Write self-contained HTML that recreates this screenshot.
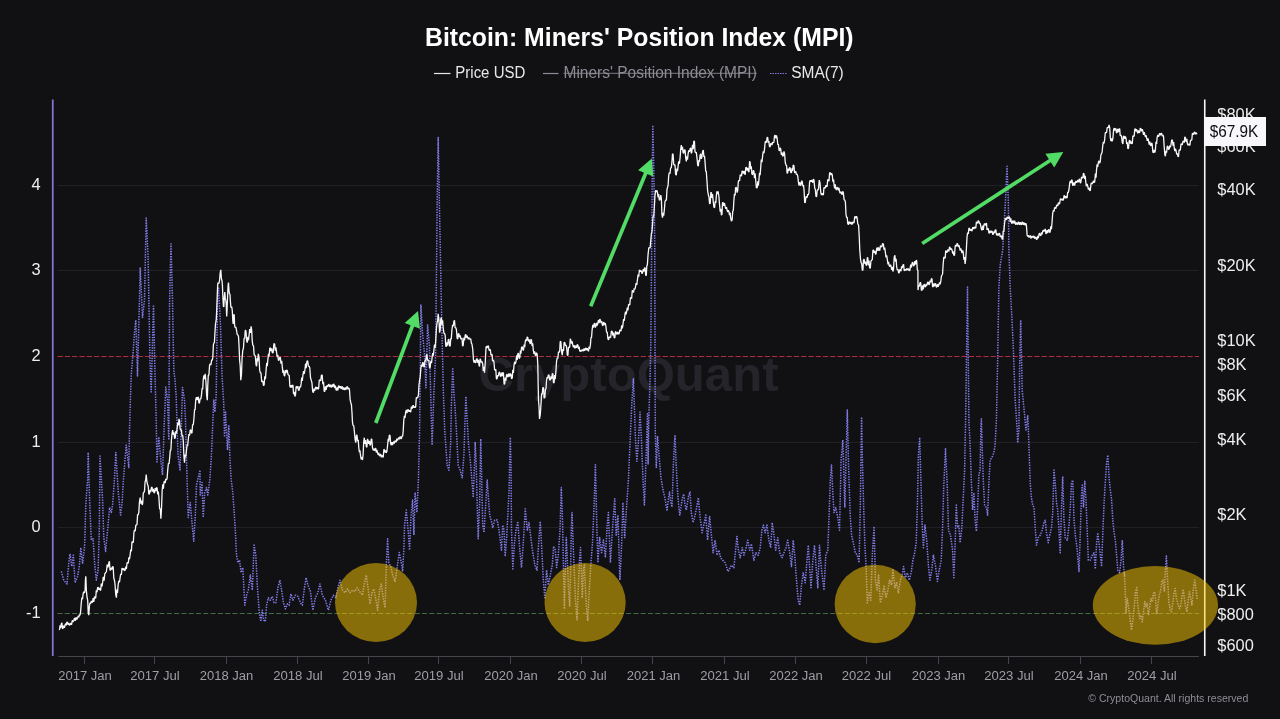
<!DOCTYPE html>
<html lang="en"><head><meta charset="utf-8"><title>Bitcoin: Miners' Position Index (MPI)</title>
<style>
html,body{margin:0;padding:0;background:#111114;}
body{width:1280px;height:719px;overflow:hidden;font-family:"Liberation Sans",sans-serif;}
svg{display:block;}
text{font-family:"Liberation Sans",sans-serif;}
</style></head><body>
<svg width="1280" height="719" viewBox="0 0 1280 719">
<rect width="1280" height="719" fill="#111114"/>
<text x="628.5" y="391.3" text-anchor="middle" font-size="48" font-weight="bold" fill="#24242a" textLength="300" lengthAdjust="spacingAndGlyphs">CryptoQuant</text>
<line x1="58" x2="1199" y1="185.5" y2="185.5" stroke="#212125" stroke-width="1"/>
<line x1="58" x2="1199" y1="270.5" y2="270.5" stroke="#212125" stroke-width="1"/>
<line x1="58" x2="1199" y1="442.5" y2="442.5" stroke="#212125" stroke-width="1"/>
<line x1="58" x2="1199" y1="527.5" y2="527.5" stroke="#212125" stroke-width="1"/>
<line x1="57.5" x2="1199" y1="356.5" y2="356.5" stroke="#ae2d3e" stroke-width="1" stroke-dasharray="5.3 1.99"/>
<line x1="57.5" x2="1199" y1="613.5" y2="613.5" stroke="#446b43" stroke-width="1" stroke-dasharray="5 2.29"/>
<line x1="58.5" x2="1199" y1="656.5" y2="656.5" stroke="#45454c" stroke-width="1"/>
<line x1="84.5" x2="84.5" y1="656.5" y2="664" stroke="#45454c" stroke-width="1"/>
<text x="85" y="680.3" text-anchor="middle" font-size="13.7" fill="#9e9ea4" textLength="53.6" lengthAdjust="spacingAndGlyphs">2017 Jan</text>
<line x1="154.5" x2="154.5" y1="656.5" y2="664" stroke="#45454c" stroke-width="1"/>
<text x="155" y="680.3" text-anchor="middle" font-size="13.7" fill="#9e9ea4" textLength="49.6" lengthAdjust="spacingAndGlyphs">2017 Jul</text>
<line x1="226.5" x2="226.5" y1="656.5" y2="664" stroke="#45454c" stroke-width="1"/>
<text x="226.5" y="680.3" text-anchor="middle" font-size="13.7" fill="#9e9ea4" textLength="53.6" lengthAdjust="spacingAndGlyphs">2018 Jan</text>
<line x1="297.5" x2="297.5" y1="656.5" y2="664" stroke="#45454c" stroke-width="1"/>
<text x="298" y="680.3" text-anchor="middle" font-size="13.7" fill="#9e9ea4" textLength="49.6" lengthAdjust="spacingAndGlyphs">2018 Jul</text>
<line x1="368.5" x2="368.5" y1="656.5" y2="664" stroke="#45454c" stroke-width="1"/>
<text x="369" y="680.3" text-anchor="middle" font-size="13.7" fill="#9e9ea4" textLength="53.6" lengthAdjust="spacingAndGlyphs">2019 Jan</text>
<line x1="438.5" x2="438.5" y1="656.5" y2="664" stroke="#45454c" stroke-width="1"/>
<text x="439" y="680.3" text-anchor="middle" font-size="13.7" fill="#9e9ea4" textLength="49.6" lengthAdjust="spacingAndGlyphs">2019 Jul</text>
<line x1="510.5" x2="510.5" y1="656.5" y2="664" stroke="#45454c" stroke-width="1"/>
<text x="511" y="680.3" text-anchor="middle" font-size="13.7" fill="#9e9ea4" textLength="53.6" lengthAdjust="spacingAndGlyphs">2020 Jan</text>
<line x1="581.5" x2="581.5" y1="656.5" y2="664" stroke="#45454c" stroke-width="1"/>
<text x="582" y="680.3" text-anchor="middle" font-size="13.7" fill="#9e9ea4" textLength="49.6" lengthAdjust="spacingAndGlyphs">2020 Jul</text>
<line x1="652.5" x2="652.5" y1="656.5" y2="664" stroke="#45454c" stroke-width="1"/>
<text x="653.5" y="680.3" text-anchor="middle" font-size="13.7" fill="#9e9ea4" textLength="53.6" lengthAdjust="spacingAndGlyphs">2021 Jan</text>
<line x1="724.5" x2="724.5" y1="656.5" y2="664" stroke="#45454c" stroke-width="1"/>
<text x="725" y="680.3" text-anchor="middle" font-size="13.7" fill="#9e9ea4" textLength="49.6" lengthAdjust="spacingAndGlyphs">2021 Jul</text>
<line x1="795.5" x2="795.5" y1="656.5" y2="664" stroke="#45454c" stroke-width="1"/>
<text x="796" y="680.3" text-anchor="middle" font-size="13.7" fill="#9e9ea4" textLength="53.6" lengthAdjust="spacingAndGlyphs">2022 Jan</text>
<line x1="866.5" x2="866.5" y1="656.5" y2="664" stroke="#45454c" stroke-width="1"/>
<text x="866.5" y="680.3" text-anchor="middle" font-size="13.7" fill="#9e9ea4" textLength="49.6" lengthAdjust="spacingAndGlyphs">2022 Jul</text>
<line x1="938.5" x2="938.5" y1="656.5" y2="664" stroke="#45454c" stroke-width="1"/>
<text x="938.5" y="680.3" text-anchor="middle" font-size="13.7" fill="#9e9ea4" textLength="53.6" lengthAdjust="spacingAndGlyphs">2023 Jan</text>
<line x1="1008.5" x2="1008.5" y1="656.5" y2="664" stroke="#45454c" stroke-width="1"/>
<text x="1009" y="680.3" text-anchor="middle" font-size="13.7" fill="#9e9ea4" textLength="49.6" lengthAdjust="spacingAndGlyphs">2023 Jul</text>
<line x1="1080.5" x2="1080.5" y1="656.5" y2="664" stroke="#45454c" stroke-width="1"/>
<text x="1081" y="680.3" text-anchor="middle" font-size="13.7" fill="#9e9ea4" textLength="53.6" lengthAdjust="spacingAndGlyphs">2024 Jan</text>
<line x1="1151.5" x2="1151.5" y1="656.5" y2="664" stroke="#45454c" stroke-width="1"/>
<text x="1152" y="680.3" text-anchor="middle" font-size="13.7" fill="#9e9ea4" textLength="49.6" lengthAdjust="spacingAndGlyphs">2024 Jul</text>
<path d="M61.3 571.4L63.8 580.2L67 583.9L68.8 562.6L70 553.9L71.8 566.4L73.3 555.1L75.1 582.7L77.6 576.4L79.3 566.4L80.8 547.6L82.6 563.9L84.6 546.3L85.8 505L87.6 480L88.2 452.5L89.6 500L91.3 540.1L93.1 538.8L94.6 562.6L96.3 580.2L98.1 570.1L99.3 530.1L100 456L102.6 500L103.8 537.6L105.6 551.4L107.6 530.1L109.6 507.5L111.4 512.5L112.6 505L114.4 480L115.8 452.5L118.1 490L119.6 505L120.6 515.1L122.1 502.5L123.4 480L126.2 445L128.8 467.5L129.5 430L131.2 375L133 354L134.5 332.5L135.8 320L137.5 376L139.4 302L140.2 268L142.5 317.5L144.5 300L146.2 218L148.1 257.5L150 362L151.2 392L153.5 305L155 375L156.2 420L157 462L158.8 437L160.8 460L162.5 475L164.2 425L165.8 387L167.5 400L168.8 440L169.6 300L171 243.8L172.5 300L173.8 370L175 380L176.2 397L178 455L180 470L182.5 387.5L184.5 400L185.5 420L186.2 450L188.2 517.6L190.2 502.5L192 522.6L193.7 541.3L195.2 517.6L196.5 485L200 470L200.2 495L202 482.5L203.2 517.6L204.7 492.5L206.5 487.5L207.8 495L209.8 480L211.2 460L213.8 400L215 412L216.2 395L217.5 300L218.6 288L220.5 325L222 375L223.8 405L224.5 437L225.5 412L227.5 450L228.8 425L230 460L231.2 480L232.8 492.5L234 510L235.3 530.1L236.5 555.1L237.8 562.6L239.5 560.1L241.1 572.6L242.8 567.6L244.8 605.2L246.6 595.2L248.3 590.2L250.3 575.1L252.3 590.2L254.1 545.1L255.8 555.1L257.3 585.2L259.1 610.2L260.8 621.5L262.3 610.2L263.6 620.2L265.3 621.5L266.6 605.2L268.3 597.7L270.3 600.2L272.3 596.4L274.1 602.7L275.9 602.7L277.9 587.7L279.9 580.2L281.6 590.2L283.4 602.7L285.4 608.9L287.4 603.9L289.1 605.2L290.9 593.9L292.9 600.2L295.4 595.2L297.9 596.4L300.4 602.7L302.4 605.2L304.1 590.2L306.1 577.6L307.9 585.2L310.4 591.4L312.9 610.2L315.4 597.7L317.9 592.7L319.9 583.9L322.4 595.2L325.4 600.2L328.4 610.2L330.9 600.2L333.4 595.2L335.9 597.7L337.9 587.7L340 580.2L342.5 590.2L345 592.7L347.5 588.9L350 592.7L352.5 590.2L355 591.4L357 587.7L359.5 591.4L362.5 595.2L364.5 582.7L366.3 575.1L368 587.7L370 603.9L372 592.7L373.8 588.9L375.6 597.7L377.6 610.2L379.6 590.2L381.3 583.9L383.1 597.7L385.1 607.7L386.3 565.1L387.6 538.8L388.8 562.6L390.8 566.4L392.6 575.1L395.1 581.4L397.1 567.6L399.3 552.6L401.3 562.6L402.6 571.4L403.8 550.1L404.6 525.1L406.3 510L408.1 530.1L409.6 550.1L410.9 517.6L412.6 500L413.9 535.1L415.1 492.5L416.9 512.5L418.4 480L419.6 430.2L420.9 305L422.6 333.8L424.6 355.1L425.9 387.7L427.6 325.1L429.4 345.1L430.6 390.2L432.1 445.2L433.9 392.7L435.6 355.1L437.2 200L438.2 137.5L439.3 200L441.4 305L442.2 342.6L443.4 392.7L444.7 430.2L447.2 465.3L448.9 470.3L450.7 442.7L451.4 405.2L452.7 367.6L453.9 392.7L455.2 410.2L456.4 430.2L458.2 465.3L460.2 470.3L462.2 477.8L463.9 455.3L464.7 430.2L465.9 396.4L467.2 420.2L468.4 442.7L470.2 460L471.9 480L473.2 497.5L474.5 465L475.2 442.4L476.2 465L477.2 505L478.2 538.8L479.7 500L480.2 470L480.7 438.7L481.5 470L482.7 525.1L484 532.6L485.7 505L487.2 480L488.2 495L489.7 515.1L491.5 521.3L492.7 527.6L494.7 520.1L497.2 520.1L499 530.1L501.5 550.1L502.7 525.1L504 530.1L505.2 556.4L506.5 540.1L509 492.5L509.8 455L510.3 437.4L511 465L511.5 530.1L512.8 568.9L514.5 542.6L516 530.1L517.8 521.3L519.8 550.1L521.5 567.6L523.3 542.6L525.3 508.8L527.3 530.1L529 522.6L530.8 537.6L532.8 552.6L534.8 565.1L537 570.1L538.5 545.1L540.3 521.3L542.1 555.1L543.3 580.2L544.8 597.7L546.6 570.1L548.3 585.2L550.3 575.1L552.3 565.1L553.6 546.3L555.3 550.1L556.6 567.6L558.3 555.1L560 530L561.3 487.5L562.5 520L563.5 570L564.4 609L565.3 570L566.3 537.5L567.3 560L568.5 590L569.7 606.5L570.6 570L571.3 530L572 512.5L573 540L574 565L575.5 600L577 619.7L578.2 590L579.5 560L580.5 547.5L581.5 575L582.3 598L583.3 570L584.3 565L585.5 590L586.8 612L587.8 621L589 595L590.8 565L592.5 542.5L594.1 505L595.4 464.7L596.6 517.6L597.9 562.6L599.6 537.6L601.6 552.6L603.4 540.1L605.4 557.6L607.2 525.1L608.4 512.5L610.4 562.6L612.4 530.1L614.7 498.8L616.2 535.1L617.9 515.1L619.9 580.2L621.7 542.6L622.9 502.5L624.7 537.6L626.7 505L628.4 480L629.5 455L630.6 430L632 400L633.4 378.8L634.5 410L635.5 440L636.9 461.3L638.5 440L640 412L641.3 436L642 455L643 480L644.4 505L645.3 480L646.3 450L647.5 413.8L648.1 464L648.8 420L650 380L650.8 345L651.3 290L651.7 240L652.2 180L652.8 125.3L653.4 150L654.1 190L654.7 240L655 340L655.3 432.5L656.3 467.5L657.5 436L659 455L661 478L663 490L665 498L667 511L668.3 500L669.5 492L670.7 502L672 507L672.6 490L673.3 467L674.5 442L675 435L676.3 467L677.6 492L678.8 507L679.8 515L681.3 505L682.6 497L683.8 494L685 505L686.3 510L687.6 502L688.8 495L690 492L691.3 512.6L693.1 522.6L695.1 515.1L697.1 505.1L698.3 497.6L700.1 517.6L702.1 532.7L704.3 522.6L705.8 515.1L707.6 540.2L709.6 516.4L711.4 535.2L713.1 552.7L715.1 540.2L717.1 555.2L718.9 550.2L720.6 557.7L722.6 560.2L725.1 562.7L728.1 571.5L731.4 565.2L733.9 567.7L735.6 550.2L736.9 536.4L738.4 550.2L740.2 557.7L742.2 547.7L743.9 555.2L745.9 548.9L747.7 540.2L749.7 550.2L751.4 543.9L753.9 560.2L755.9 552.7L758.2 555.2L760.2 547.7L761.9 530.2L763.4 525.1L765.2 532.7L766.9 525.1L768.9 540.2L770.7 547.7L772.2 522.6L774 535.2L775.7 550.2L777.7 537.7L779.7 552.7L782 557.7L784 552.7L786 547.7L787.7 540.2L789.7 552.7L791.5 566.5L793.2 540.2L794.7 555.2L796.5 580.2L798.2 600.3L799.7 605.3L801.5 585.2L803.2 572.7L805.2 582.7L807 560.2L808.3 545.2L809.8 570.2L811 587.7L812.8 560.2L814.5 545.2L816 565.2L817.8 587.7L819.5 545.2L821 565.2L822.8 580.2L824 590.2L825.8 555.2L827.8 550.2L829 517.6L830.3 480.1L831.5 465.1L832.8 492.6L834 512.6L835.8 507.6L837.8 517.6L839.5 530.2L841.1 460L842.8 440L844.1 480.1L844.8 507.6L846.1 455L847.3 410L848.6 467.6L850.3 517.6L851.6 535.2L853.3 542.7L855.3 552.7L857.3 555.2L859.1 562.7L860.3 505.1L861.6 417L862.3 455L863.6 505.1L864.8 542.7L866.1 567.7L867.3 602.8L869.1 592.7L870.8 600.3L872.3 555.2L874.1 526.4L875.4 580.2L877.1 590.2L878.6 575.2L880.4 602.8L882.4 595.2L884.1 585.2L885.9 597.8L887.9 590.2L889.6 580.2L891.6 585.2L892.9 569L894.9 587.7L896.6 582.7L898.4 592.7L900.4 580.2L902.1 575.2L903.6 566.5L905.4 577.7L907.4 572.7L909.2 580.2L911.2 572.7L912.9 560.2L914.7 552.7L916.2 542.7L917.4 505.1L918.4 455L919.7 437.5L920.9 480.1L922.2 525.1L923.4 547.7L924.9 525.1L926.7 540.2L928.4 565.2L929.9 580.2L931.7 570.2L933.4 555.2L935.4 565.2L937.4 581.5L939.2 570.2L941.2 560.2L942.5 530.2L943.7 487.6L945.5 448.8L947.2 485.1L948.5 530.2L950.5 535.2L952.6 550.2L953.8 577.7L955.1 545.2L956.3 505.1L957.6 527.7L958.8 525.2L960.1 542.7L961.8 527.7L963.3 497.6L964.6 470.1L965.6 420L967.5 287L968.9 420L970.1 445L971.4 482.6L972.6 510.1L973.9 492.6L975.1 520.2L976.4 531.4L977.6 507.6L978.9 475.1L980.1 470.1L980.9 427.5L981.4 418.7L982.1 445L983.4 482.6L984.6 505.1L986.4 507.6L987.6 515.1L988.9 482.6L990.1 460.1L991.9 457.6L993.9 452.5L995.1 445L996.4 420L997.6 362.7L998.9 287.6L1000.2 265L1002.7 250L1005.5 200L1007 166.3L1008.3 200L1008.9 250L1010.2 287.6L1011.9 317.6L1013.4 350.2L1015.2 400.2L1017.2 430L1017.7 442.8L1018.9 430L1019.7 362.7L1020.7 320.1L1021.4 350.2L1022.2 390.2L1024.4 412.7L1025.9 430L1026.7 425.3L1027.7 415.2L1028.2 425.3L1028.9 445L1030.2 482.6L1031.4 497.6L1032.7 505.1L1034 507.6L1035.2 527.7L1036.5 545.2L1038.2 537.7L1040.2 535.2L1042.2 530.2L1044 522.7L1045.2 520.2L1046.5 532.7L1048.2 542.7L1049.7 535.2L1051.5 527.7L1052.7 512.6L1054 470.1L1055.2 482.6L1056.5 502.6L1057.7 510.1L1059 530.2L1060.2 552.7L1061.5 507.6L1062.7 476.3L1064 520.2L1065.2 537.7L1067.3 540.2L1069 525.2L1070.3 507.6L1071.5 482.6L1072.8 480.1L1074 520.2L1075.3 535.2L1077 547.7L1079 571.5L1080.3 532.7L1081.5 495.1L1082.3 485.1L1083.5 507.6L1084.8 481.3L1086 500.1L1087.3 532.7L1088.3 560.2L1090.3 560.2L1092.3 555.2L1094 552.7L1095.3 569L1096.5 545.2L1097.8 532.7L1099.5 547.7L1101.6 566.5L1102.8 532.7L1104.1 502.6L1105.3 482.6L1106.6 462.6L1107.8 455.1L1109.1 477.6L1110.3 490.1L1111.6 500.1L1112.8 520.2L1114.1 532.7L1115.3 540.2L1116.6 555.2L1117.8 570.2L1119.6 572.7L1121.1 560.2L1122.3 540.2L1123.6 567.7L1124.6 575.2L1124.3 573.4L1125.1 586.8L1126 613.5L1127.1 598.4L1128.5 606.8L1129.8 616.8L1131.5 630.2L1133 618.5L1134.3 606.8L1135.5 591.8L1136.8 587.6L1137.6 603.4L1138.5 610.1L1139.8 618.5L1141.5 615.1L1142.2 621.8L1143.5 611.8L1144.8 601.8L1146 606.8L1147.2 603.4L1148.5 615.1L1149.7 606.8L1151 598.4L1152.2 601.8L1153.5 593.4L1154.7 591.8L1156 605.1L1156.8 614.3L1158 603.4L1159.3 595.1L1160.7 590.1L1161.9 581.7L1163 580.1L1164.4 591.8L1165.2 573.4L1166.4 555.9L1167.7 581.7L1168.9 601.8L1170.2 610.1L1171.5 611.8L1172.7 603.4L1174 593.4L1175.2 588.4L1176.4 598.4L1177.7 603.4L1179.4 608.5L1180.6 606.8L1181.9 596.8L1183.2 589.3L1184.4 598.4L1185.6 606.8L1186.9 611.8L1188.2 600.1L1189.4 591.8L1190.7 598.4L1191.9 605.1L1193.2 590.1L1194.7 580.1L1196.1 590.1L1197.3 600.1" fill="none" stroke="#837dea" stroke-width="1.5" stroke-dasharray="1.4 1.2" stroke-linejoin="round"/>
<path d="M59.5 629.5L60.1 625.4L60.7 628.2L61.3 624L61.9 622.7L62.5 628.7L63 628.2L63.7 625.6L64.4 627.9L65 625.2L65.7 623.6L66.3 625.4L66.9 621.8L67.5 622.7L68.2 624.8L68.8 622.9L69.4 625.3L70 624.7L70.8 622.9L71.5 624.8L72.3 620.3L73 622L73.8 620.2L74.6 618L75.3 620.9L76.1 617.3L76.8 619.6L77.6 617.7L78.2 616.1L78.8 617.3L79.4 614.4L80.1 615.2L80.7 610.8L81.3 602.7L81.9 597.5L82.5 599.2L83.1 593.9L83.7 591.6L84.4 593.1L85.1 590.2L85.4 580.4L85.8 576.4L86.4 590.9L87.1 597.7L87.7 600.4L88.2 612.7L88.8 615.2L89.4 605.9L90.1 602.7L90.7 603.7L91.3 600.9L92 602.7L92.6 601.4L93.2 598.2L93.8 601.8L94.5 596.6L95.1 597.7L95.7 598.3L96.3 590.4L97 592.2L97.6 587.7L98.2 587.2L98.8 589.8L99.5 587.9L100.1 590.2L100.7 590.3L101.3 583.5L102 586.5L102.6 582.7L103.3 576.9L104.1 580.7L104.8 573.8L105.6 572.6L106.4 571.8L107.2 564.6L108 567.3L108.9 562.6L109.4 561.2L110 570.2L110.6 570.1L111.3 567.8L111.9 569.6L112.6 566.4L113.2 567.2L113.8 578L114.4 580.2L115 584L115.7 594.4L116.4 597.7L116.9 589.3L117.5 593L118.1 585.2L118.8 580.9L119.5 582.1L120.1 577.6L120.7 573.9L121.4 574.8L122 568L122.6 568.9L123.2 570L123.9 568.3L124.5 570.9L125.1 570.1L125.8 566.6L126.4 569L127 563L127.6 562.6L128.3 563.2L128.9 557.4L129.5 559.1L130.1 555.1L130.8 549.7L131.4 551.3L132 541.5L132.6 542.6L133.3 542.2L134 531.7L134.6 530.1L135.2 531.3L135.8 525.1L136.4 525.1L137 524.5L137.6 514.4L138.1 515.1L138.8 512.6L139.5 501.4L140.2 497.5L140.8 503.6L141.5 500.6L142.2 505L142.7 503.3L143.3 493L143.9 492.5L144.5 490.9L145.1 481.7L145.7 480L146.2 474.5L146.9 481.7L147.7 485L148.2 486L148.8 494.1L149.4 493.8L150.1 489.9L150.7 492.1L151.4 487.5L152 487.2L152.7 491.7L153.3 488.8L153.9 492.5L154.5 493L155.2 488.1L155.8 491.1L156.4 487.5L157.1 488.1L157.7 494.4L158.3 491.5L158.9 497.5L159.6 508.5L160.3 509.3L160.9 518.8L161.6 506.6L162.2 490L162.8 484.2L163.4 488.8L163.9 482.5L164.6 480.9L165.2 483.2L165.8 478.8L166.4 480L167.1 478.4L167.7 470.3L168.4 463.3L169 463.9L169.7 457.7L170.3 450.1L170.9 450.3L171.4 440.2L172.1 432.9L172.7 430.2L173.3 434.7L174 432.2L174.6 438.7L175.2 437.7L175.9 431.1L176.5 433.5L177.2 427.7L177.8 422.6L178.4 425.4L179 418.9L179.5 420.8L180.1 428.8L180.7 430.2L181.4 429.8L182 436.1L182.7 435.2L183.3 441.1L183.9 456L184.5 462.7L185.1 454.5L185.8 456.7L186.5 450.2L187.1 445.1L187.6 446L188.2 440.2L188.9 434L189.6 435.4L190.2 430.2L190.8 429.9L191.4 433.2L192 432.7L192.6 424.5L193.3 424.8L194 417.7L194.6 409.2L195.1 410L195.7 400.2L196.4 397.2L197.1 400.2L197.7 397.6L198.3 396.8L198.9 403.3L199.5 402.7L200.2 398.4L200.8 399.2L201.5 395.1L202.1 388.4L202.7 389.2L203.2 380.1L203.9 375.4L204.6 379.1L205.2 373.9L205.9 380.8L206.6 394.8L207.3 400.2L207.8 384.7L208.3 375.1L208.9 375L209.6 365L210.3 363.8L210.9 365.1L211.6 360.2L212.3 360.1L212.8 357.4L213.4 344.8L214 342.6L214.4 342.9L214.8 335L215.5 324L216.2 320.2L216.7 310.6L217.3 293.9L217.7 284.5L218 282.6L218.8 283.7L219.5 280.8L220.2 272.7L220.8 269.9L221.4 278.8L222 280.8L222.4 285.1L222.9 297.7L223.4 306.3L223.8 307L224.3 296.7L224.8 292L225.3 299.6L225.7 299.5L226.2 304L226.7 316.4L227.1 309.3L227.6 295.8L228.1 285.9L228.5 282.6L229 291L229.5 293.9L230 294.4L230.4 301.4L230.9 307.5L231.4 307L231.8 307.2L232.3 310.8L232.8 320.8L233.2 323.9L233.7 314.9L234.2 314.6L234.6 325.1L235.1 327.7L235.8 326.8L236.4 329.6L237.2 334.5L237.9 335L238.5 336.4L239 345.1L239.6 360L240.2 365.6L240.8 380.1L241.5 374L242.1 358.1L242.8 350.1L243.4 348.7L244.1 338.3L244.7 338.3L245.3 330L246 331.2L246.6 340.7L247.3 342.6L247.9 336.8L248.5 340.3L249.1 335.1L249.7 329.1L250.4 333L251.1 326.3L251.7 330.2L252.2 340.6L252.8 345.1L253.5 345.9L254.2 355.2L254.8 355.1L255.4 356.6L256 364.8L256.6 366.3L257.2 358.1L257.7 361.4L258.3 353.8L259 357.2L259.7 370.4L260.3 372.6L261 373.1L261.7 381.7L262.3 381.4L262.9 381.2L263.5 385.6L264.1 385.1L264.8 376.3L265.4 379.2L266.1 370.1L266.7 362.8L267.3 366.2L267.8 360.1L268.5 353.7L269.1 356.4L269.7 348.6L270.3 347.6L271 351.2L271.7 348.3L272.3 352.6L273.1 353L273.9 343.7L274.6 343.8L275.3 350.6L275.9 347.4L276.6 352.6L277.2 357.1L277.8 354.9L278.4 360.1L279 360.4L279.7 357.3L280.4 357.6L281 363.7L281.7 360.9L282.4 367.6L282.9 372.9L283.5 370.3L284.1 375.1L284.7 376.2L285.4 370.1L286 373.1L286.6 370.1L287.3 370.5L288 374.6L288.6 375.1L289.2 375.3L289.8 385.3L290.4 387.6L291 385.1L291.7 387.5L292.4 385.1L293 385.6L293.6 394.3L294.3 391.9L294.9 396.4L295.5 395.1L296.1 386.8L296.6 386.4L297.3 388.3L297.9 386.2L298.5 390.4L299.1 390.1L299.8 386.5L300.5 387.4L301.1 383.9L301.7 377.6L302.3 380.9L302.9 375.1L303.6 371.2L304.2 374L304.9 370.1L305.6 363.6L306.2 368.2L306.9 361.3L307.7 360.8L308.4 366.1L309.2 366.3L309.8 368L310.5 377.7L311.2 380.1L311.9 382.5L312.7 391.4L313.4 392.6L314.1 388.6L314.7 390.8L315.4 387.6L316 387L316.7 389.3L317.3 387.2L317.9 388.9L318.6 388.8L319.3 380L319.9 380.1L320.7 380.8L321.4 375.1L322.2 375.1L322.8 384.3L323.5 381.9L324.2 391.4L324.8 391.3L325.4 386.4L326.1 389.8L326.7 386.4L327.3 385.3L327.9 386.9L328.6 384.2L329.2 385.1L329.8 387L330.4 384.7L331.1 387.3L331.7 386.4L332.3 384.5L332.9 387.2L333.6 383.8L334.2 385.1L334.8 388.1L335.4 385.6L336.1 390.2L336.7 390.1L337.3 387.3L337.9 390.3L338.6 385.5L339.2 386.4L339.8 388.1L340.5 386.1L341.1 388.9L341.7 387.6L342.3 386.3L343 389.9L343.6 387.4L344.2 388.9L344.8 390L345.5 387.3L346.1 389.5L346.7 387.6L347.3 386.4L348 389.3L348.6 387.8L349.2 388.9L349.5 390.2L350.1 399.3L350.8 402.7L351.4 404.5L352 412.7L352.5 422.7L353 425.2L353.8 426L354.5 432.7L355.1 439.5L355.8 442.7L356.4 435.2L357 435.2L357.6 441.3L358.2 439.8L358.8 447.8L359.4 452.2L359.9 450.4L360.5 455.3L361.2 459.3L361.9 457.1L362.5 460L363.1 454.7L363.7 442.1L364.3 437.7L365 444L365.6 440L366.3 446.5L366.9 447.3L367.5 438.9L368 440.2L368.7 443.9L369.4 440.8L370 445.2L370.6 444.8L371.2 439.2L371.8 439L372.5 447.7L373.3 450.3L373.9 448.8L374.5 450.9L375.1 449L375.7 448.2L376.3 452.5L376.9 449.8L377.6 452.8L378.2 454.8L378.8 452.9L379.4 455.9L380.1 455.3L380.7 454.1L381.3 457.4L381.9 455.3L382.6 456.5L383.2 457.4L383.9 449.2L384.6 450.3L385.2 452.7L385.7 450.3L386.3 452.8L386.9 451.3L387.6 445.2L388.2 438.8L388.7 441.6L389.3 435.2L390 435.3L390.7 443.7L391.3 445.2L391.9 442.2L392.5 445.2L393.1 442.7L393.7 441.4L394.3 443.6L395 440.6L395.6 441.5L396.2 442.2L396.8 438.6L397.5 440.5L398.1 439L398.8 437.5L399.5 439.4L400.2 436.5L400.8 437.7L401.4 439L402 435.9L402.6 436.5L403.2 431.3L403.8 420.2L404.4 415.8L405 417.8L405.6 412.7L406.3 410L406.9 413L407.6 410.2L408.2 409.4L408.9 411.8L409.5 410.3L410.1 411.4L410.7 412.2L411.4 406.5L412 408.9L412.6 406.4L413.2 405.3L413.9 407.7L414.5 406.5L415.1 407.7L415.7 406.7L416.3 397.5L416.9 397.7L417.6 397.8L418.4 395.2L419 385L419.6 380.2L420.2 377.2L420.9 367.6L421.5 364.5L422 366.9L422.6 362.6L423.2 362.6L423.8 367L424.4 366.4L425 360.2L425.7 361.1L426.4 355.1L427 354.6L427.5 360.5L428.1 360.1L428.8 360.4L429.5 367.5L430.1 367.6L430.8 361.2L431.5 363.1L432.1 357.6L432.7 353L433.3 355.7L433.9 350.1L434.5 344.5L435.1 347.9L435.6 342.6L436.4 328.6L437.1 322.6L437.6 321.5L438.1 313.8L438.9 319.2L439.6 332.6L440.2 329.9L440.8 318.9L441.4 317.6L442 324.7L442.6 320.2L443.2 327.6L443.9 333L444.7 333.8L445.2 335.5L445.8 346.3L446.4 346.3L447 342.4L447.6 345.7L448.2 340.1L448.8 339.1L449.5 345.8L450.2 346.3L450.7 338.6L451.3 339.1L451.9 330.1L452.6 324.9L453.3 326.1L453.9 321.3L454.5 320.2L455.1 327.8L455.7 327.6L456.4 329.4L457.2 338.8L457.8 338.6L458.3 333.5L458.9 333.8L459.6 337.2L460.2 335.3L460.8 338.9L461.4 338.8L462 338.1L462.6 346.3L463.2 345.1L463.9 337.5L464.5 340.4L465.2 335.1L465.8 334.3L466.4 338L467.1 335.6L467.7 337.6L468.3 339.2L468.9 337.4L469.6 339.3L470.2 338.8L470.8 339.1L471.4 343.5L471.9 343.8L472.7 348.8L473.5 360.1L474 362.5L474.6 360.1L475.2 362.6L475.9 362.6L476.5 358.8L477.2 358.9L477.8 362.8L478.4 359.9L479 365.1L479.5 366.5L480.1 358.8L480.7 360.1L481.4 362.5L482 361.5L482.7 363.9L483.3 371L483.9 366.8L484.5 372.6L485.2 363.8L486 347.6L486.6 346.1L487.1 348L487.7 346.3L488.4 345.8L489.1 350.5L489.7 350.1L490.3 349.4L490.9 354.7L491.5 355.1L492.1 354.2L492.6 361.2L493.2 360.1L493.9 361.3L494.6 369.7L495.2 370.1L495.8 369.4L496.4 378.8L497 378.9L497.7 375.1L498.3 376.3L499 372.6L499.7 372.1L500.3 376.2L501 376.4L501.6 372.7L502.2 376.2L502.7 372.6L503.4 372.8L504.1 384.1L504.7 383.9L505.3 377.6L505.9 380.8L506.5 375.1L507.1 374.2L507.7 377.2L508.3 376.4L508.9 373.5L509.6 376.6L510.3 373.9L510.9 373.8L511.6 378.8L512.3 377.6L512.8 369.8L513.4 373L514 365.1L514.7 361.7L515.3 364.2L516 361.4L516.6 355.2L517.2 360L517.8 353.9L518.4 353.1L519.1 358.5L519.8 357.6L520.4 350.6L520.9 353.7L521.5 347.6L522.2 346.7L522.9 350.2L523.5 350.1L524.1 344.6L524.7 347.2L525.3 341.3L525.9 339.5L526.5 340.9L527.2 336.8L527.8 337.6L528.4 341.5L529.1 339.4L529.8 342.6L530.4 343.9L531 339.2L531.5 340.1L532.1 346L532.7 343.3L533.3 350.1L534 353.9L534.6 351.4L535.3 355.1L535.9 355.5L536.5 352.6L537.2 354.5L537.8 365.1L538.2 386L538.5 400.2L539 406L539.5 419L540.3 414.5L541.1 402.7L541.6 393.4L542.2 394.5L542.8 387.7L543.5 387.7L544.1 398L544.8 397.7L545.4 389.4L546 388.8L546.6 380.2L547.1 377.2L547.7 378.4L548.3 375.1L549 375L549.6 379.8L550.3 380.2L551 376.3L551.7 379L552.3 373.9L552.9 373.7L553.5 382.8L554.1 382.7L554.7 375.1L555.2 379.2L555.8 372.6L556.6 360.8L557.3 357.6L557.9 358.4L558.5 351.5L559.1 352.6L559.7 350.8L560.2 341.8L560.8 341.3L561.6 351.9L562.3 355.1L562.9 349.1L563.5 350.9L564.1 342.6L564.8 342.4L565.4 345.7L566.1 345.1L566.7 347.9L567.3 355.1L567.9 355.4L568.5 347.1L569.1 347.6L569.7 346.8L570.3 338.8L570.8 340.1L571.5 343.6L572.2 341.4L572.8 345.1L573.5 347.2L574.1 345.1L574.7 348.1L575.4 347.6L576 345.4L576.6 347.8L577.2 344.6L577.9 345.1L578.5 349L579.1 346.6L579.7 351L580.4 351.4L581 350.1L581.6 351.4L582.2 349.6L582.9 350.1L583.5 351.2L584.1 348.4L584.7 350.7L585.4 348.9L586 347.8L586.6 350.2L587.2 348.1L587.9 350.1L588.5 351.3L589.1 346.5L589.7 348.8L590.4 345.1L591 337.2L591.5 338L592.1 330.1L592.8 324.8L593.5 327.7L594.1 323.8L594.7 323.1L595.3 327.6L595.9 326.3L596.6 323L597.2 325.5L597.9 322.6L598.5 320L599.1 323.1L599.8 319.2L600.4 320.1L601.1 323.1L601.7 321.2L602.4 325.1L603 325.7L603.6 322.2L604.1 322.6L604.7 325L605.3 323.2L605.9 326.3L606.6 332.5L607.2 331.8L607.9 338.8L608.6 339.8L609.2 336.8L609.9 337.6L610.7 337.2L611.4 331.1L612.2 331.3L612.8 335.5L613.5 332.7L614.2 337.6L614.8 338L615.5 331.4L616.2 332.6L616.9 334.6L617.7 332L618.4 333.8L619.1 333.9L619.8 330.2L620.4 330.1L621 331.2L621.7 325.3L622.3 328.3L622.9 325.1L623.6 319.1L624.3 320.8L624.9 315.1L625.5 311.7L626.1 314.5L626.7 311.3L627.3 307.6L627.9 310.4L628.6 304.2L629.2 305L629.8 304.6L630.4 297.9L630.9 297.5L631.6 298.6L632.3 290.3L632.9 291.3L633.6 292.4L634.2 288.4L634.8 289.4L635.4 287.5L636.1 283L636.8 284.9L637.4 280L638.1 274.7L638.7 276.8L639.4 270L640 270.3L640.6 271.7L641.3 270.6L641.9 273.7L642.5 272.8L643.2 269L643.8 271.7L644.5 267.8L645.1 267.8L645.7 275.5L646.3 275.3L646.8 266.3L647.4 264.5L648 255.2L648.8 247.8L649.5 247.7L650.1 247.9L650.8 240.2L651.4 233.3L651.9 232.2L652.5 225.2L653.1 215.5L653.7 216.8L654.3 207.7L655 195.2L655.8 190.1L656.4 192.1L656.9 190.4L657.5 192.6L658.1 197.3L658.7 194.1L659.3 200.2L660 199.7L660.8 195.1L661.4 199.2L661.9 214.5L662.5 217.7L663.1 212.8L663.7 215.6L664.3 210.2L665 201.5L665.8 200.2L666.4 200.1L667 189L667.5 187.6L668.1 185.3L668.7 175.6L669.3 172.6L670 173.6L670.6 168L671.3 167.6L671.9 162.7L672.5 153.8L673.1 154.4L673.7 164.3L674.3 165.1L675 164.9L675.6 174.3L676.3 175.1L676.9 168.5L677.5 171.2L678.1 166.3L678.7 161.3L679.4 163.7L680.1 157.6L680.7 149.4L681.3 145.1L681.9 149.9L682.5 146.8L683.1 152.6L683.7 153.5L684.4 149.7L685.1 150.1L685.7 157.8L686.3 161.3L686.9 156.4L687.5 159.6L688.1 153.8L688.7 150.4L689.4 151.8L690.1 148.8L690.7 147.9L691.2 153.3L691.8 152.6L692.5 144.7L693.2 149.2L693.8 141.3L694.4 141L695 151.7L695.6 152.6L696.3 152.3L697.1 158.8L697.7 165.1L698.3 166.3L698.9 160L699.5 161.6L700.1 155.1L700.7 153.8L701.3 158.8L701.8 157.6L702.6 151.5L703.3 150.1L703.9 156.9L704.5 155.7L705.1 162.6L705.7 171.1L706.3 171.5L706.9 180.1L707.6 190.4L708.4 195.1L709 197.3L709.6 203.9L710.2 203.3L710.8 192.6L711.4 192.6L711.9 198L712.5 194.1L713.1 200.2L713.9 207.1L714.6 207.7L715.2 201.3L715.8 203L716.4 195.1L716.9 191.4L717.5 194.1L718.1 191.4L718.9 196.5L719.6 205.2L720.2 211.6L720.8 208.7L721.4 215.2L722 214.2L722.5 202.6L723.1 202.7L723.8 205.9L724.5 203L725.1 206.4L725.8 208.8L726.5 207.1L727.1 210.2L727.7 212.1L728.3 210.2L728.9 211.4L729.5 215.1L730.1 212.6L730.6 217.7L731.4 221.1L732.1 220.2L732.7 211.6L733.3 210.2L733.9 200.2L734.5 193.9L735.1 195.5L735.6 187.6L736.4 187.5L737.1 192.6L737.7 190.8L738.3 182L738.9 180.1L739.6 180.9L740.2 174.7L740.9 175.1L741.5 176.1L742.1 170.9L742.7 171.4L743.3 173.5L744 171L744.7 173.9L745.2 174.6L745.8 167.2L746.4 167.6L747.1 170.7L747.7 168L748.4 171.4L749 172L749.6 161.4L750.2 162.6L750.7 169.1L751.3 166.2L751.9 173.9L752.6 174.7L753.3 170.3L753.9 171.4L754.5 178.1L755.1 173.3L755.7 180.1L756.4 187.9L757.2 187.6L757.8 181.3L758.3 185.7L758.9 180.1L759.5 172.9L760.1 175.3L760.7 167.6L761.3 159.6L762 162.1L762.7 155.1L763.3 151.4L763.9 153.2L764.4 150.1L765.2 142L765.9 141.3L766.5 142.7L767.1 137.2L767.7 137.6L768.3 142.6L768.9 141.1L769.4 146.3L770.1 146.9L770.8 143.4L771.4 143.8L772 145.1L772.6 142.2L773.2 142.6L773.9 142.2L774.5 135.9L775.2 135.1L775.9 138.3L776.5 135.4L777.2 138.8L777.8 144.8L778.4 144.4L779 150.1L779.5 150.9L780.1 147.9L780.7 148.8L781.4 154.8L782 152.3L782.7 156.3L783.3 155.6L784 151.3L784.6 153.7L785.3 162.8L786 165.1L786.6 165.5L787.1 173.4L787.7 172.6L788.3 168.6L788.9 170.9L789.5 167.6L790.1 167.8L790.8 172.6L791.5 172.6L792.1 168.1L792.6 171L793.2 165.1L793.9 165.5L794.6 172.7L795.2 172.6L795.8 171.4L796.4 174.7L797 173.9L797.7 175.8L798.5 182.6L799.1 185.5L799.7 182.2L800.2 185.1L800.9 185.4L801.6 180.8L802.2 181.4L802.9 186.3L803.5 185.1L804.1 190.9L804.7 202.7L805.3 202.4L805.9 197L806.5 196.4L807.1 197.7L807.7 194L808.3 195.1L808.9 192.9L809.6 182L810.3 180.1L810.9 181.8L811.6 180L812.3 181.4L812.8 182.7L813.4 179.1L814 180.1L814.7 187.9L815.3 189.2L816 196.4L816.6 196.7L817.2 190L817.8 190.1L818.5 188.9L819.3 180.1L820 182.8L820.8 192.6L821.4 195.1L822.1 193.3L822.8 195.1L823.4 194.6L823.9 187.8L824.5 187.6L825.2 188.2L825.9 185.2L826.5 186.4L827.1 186.8L827.7 179.5L828.3 180.1L829 181.2L829.6 173.1L830.3 172.6L831 175L831.6 173.2L832.3 175.1L832.9 181.8L833.5 179.2L834 183.9L834.6 188.3L835.2 184.4L835.8 188.9L836.5 190L837.1 187.3L837.8 187.6L838.4 190.4L839 187.9L839.5 191.4L840.2 193.2L840.9 191.6L841.6 193.9L842.1 194.7L842.7 191.3L843.3 192.6L844.1 199.6L844.8 200.2L845.4 202L846 214.3L846.6 217.7L847.2 217L847.8 223.9L848.5 224.6L849.1 221.5L849.8 222.7L850.4 223.9L851 221.9L851.6 223.9L852.2 224.5L852.7 221.8L853.3 222.7L854 222.9L854.7 216.9L855.3 216.4L855.9 218.4L856.5 216.2L857.1 217.7L857.8 224L858.6 225.2L859.2 235.8L859.8 250.2L860.5 259L861.1 262.7L861.7 263.6L862.3 270.3L862.9 270.1L863.5 260.1L864.1 259L864.8 263.7L865.4 261.7L866.1 265.2L866.7 265.3L867.3 257.6L867.8 257.7L868.4 265.3L869 260.5L869.6 267.8L870.3 268.1L870.9 261.3L871.6 260.2L872.3 259.6L872.9 250L873.6 250.2L874.2 252.9L874.8 250.8L875.4 254L876 254.1L876.7 248.5L877.4 247.7L877.9 250.8L878.5 247.4L879.1 250.2L879.8 250.3L880.4 245.8L881.1 246.5L881.9 246.8L882.6 243.5L883.4 244L884 249.8L884.7 247.5L885.4 252.7L886 257.4L886.7 255.4L887.4 260.2L888 264.4L888.5 261.9L889.1 265.2L889.8 266.6L890.5 264.6L891.1 266.5L891.7 270L892.3 266.9L892.9 271.5L893.5 269.3L894.2 257.1L894.9 255.2L895.5 261.6L896.1 258.9L896.6 266.5L897.3 270.1L898 269.1L898.6 272.8L899.2 272.9L899.8 269.3L900.4 270.3L901 271.1L901.6 266.4L902.3 268.1L902.9 265.2L903.6 264.3L904.2 270.8L904.9 270.3L905.5 269.2L906.1 270.5L906.8 268.5L907.4 269L908 270.1L908.7 268.6L909.3 270.7L909.9 270.3L910.7 264.5L911.4 267.5L912.2 262.7L912.8 262.1L913.5 266.1L914.2 265.2L914.8 261.1L915.5 264.5L916.2 260.2L916.7 260.9L917.3 269.5L917.9 270.3L918 290.1L918.7 285.2L919.4 286.5L920 282.5L920.7 282.7L921.4 290.5L922 290.1L922.6 285.3L923.2 289.4L923.8 285.1L924.5 284.1L925.1 287.2L925.8 286.3L926.4 284L927 285.4L927.5 282.5L928.2 281.9L928.9 284.8L929.5 283.8L930.1 280.7L930.7 282.4L931.3 278.8L932 278.7L932.6 287L933.3 286.3L933.9 283.5L934.5 286.3L935.1 283.8L935.7 283.6L936.4 287.3L937.1 286.3L937.6 284.2L938.2 286.8L938.8 285.1L939.5 282.3L940.1 284.3L940.8 281.3L941.4 276.1L942.1 275L942.6 273.6L943.1 265L943.8 257.1L944.6 257.7L945.2 258.1L945.7 250.6L946.3 251.5L947 252.6L947.7 249.7L948.3 250.2L948.9 251.5L949.5 246.8L950.1 247.7L950.7 249.7L951.4 248.4L952.1 250.2L952.7 253.6L953.2 251.3L953.8 255.2L954.5 255.4L955.2 246L955.8 245.2L956.4 246.5L957 243.3L957.6 244L958.3 246.9L958.9 245.3L959.6 247.7L960.2 250.7L960.8 248.3L961.3 250.2L962 253L962.7 250.4L963.3 252.7L963.9 259.7L964.5 257.1L965.1 264L965.7 259.5L966.3 250.2L967 237.4L967.6 232.7L968.3 233.9L968.9 228L969.6 228.9L970.2 230.7L970.8 228.9L971.4 230.2L972 231.2L972.7 227.3L973.4 227.7L973.9 229L974.5 227L975.1 227.7L975.8 228.2L976.4 221.8L977.1 222.7L977.7 223.2L978.3 220.5L978.9 221.4L979.5 223.9L980 222.8L980.6 225.2L981.4 229.4L982.1 230.2L982.7 225.5L983.3 229.8L983.9 225.2L984.5 223.4L985.2 225.4L985.9 223.9L986.5 223.1L987 229.9L987.6 228.9L988.3 228.6L989 233.3L989.6 232.7L990.2 230.7L990.8 232.6L991.4 231.4L992.1 231.2L992.7 234.6L993.4 234L994 231.4L994.6 233.1L995.1 230.2L995.8 229.7L996.5 235L997.1 235.2L997.7 233.5L998.3 235.4L998.9 234L999.6 233.2L1000.2 236.9L1000.9 236.5L1001.5 235.5L1002.1 239.1L1002.7 239L1003.2 230.9L1003.8 231.9L1004.4 225.2L1005.2 218.3L1005.9 218.9L1006.5 219.9L1007.1 216.9L1007.7 217.7L1008.3 218.5L1009 216.6L1009.7 217.7L1010.2 221.9L1010.8 218.4L1011.4 222.7L1012.1 223.7L1012.8 220.7L1013.4 221.4L1014 223.6L1014.6 220.7L1015.2 222.7L1015.8 224.7L1016.5 222.4L1017.2 223.9L1017.8 224.7L1018.3 221.8L1018.9 222.7L1019.6 224.7L1020.3 222.3L1020.9 223.9L1021.5 224.8L1022.1 221.9L1022.7 222.7L1023.3 224.8L1023.9 222.5L1024.4 223.9L1025.1 225.1L1025.8 223.3L1026.4 225.2L1027.1 234.9L1027.7 236.5L1028.4 235.3L1029 237.5L1029.7 236.5L1030.3 235.4L1030.9 238.3L1031.4 237.7L1032.1 236L1032.8 237.6L1033.5 236.5L1034 236L1034.6 238.5L1035.2 237.7L1035.9 236.9L1036.5 239.6L1037.2 239L1037.8 236L1038.4 238.1L1039 234L1039.6 233.1L1040.3 235.7L1041 235.2L1041.5 232.4L1042.1 234.4L1042.7 231.4L1043.4 230.1L1044 231.4L1044.7 230.2L1045.3 228.9L1045.9 234L1046.5 232.7L1047.1 230.1L1047.6 233.1L1048.2 230.2L1048.9 229.5L1049.6 232.6L1050.2 231.4L1050.8 226.2L1051.4 229.3L1052 222.7L1052.7 213.2L1053.5 210.2L1054.1 211.4L1054.6 207.5L1055.2 207.7L1055.9 208.7L1056.6 205L1057.2 205.2L1057.8 206L1058.4 202.6L1059 203.9L1059.7 203.4L1060.3 199L1061 198.9L1061.6 200.3L1062.2 198.7L1062.7 200.2L1063.4 200L1064.1 195.3L1064.7 196.4L1065.3 198.4L1065.9 196.1L1066.5 197.6L1067.1 197.9L1067.7 192L1068.3 192.6L1069 189.5L1069.8 182.6L1070.3 180.9L1070.9 183L1071.5 180.1L1072.1 180L1072.7 185.6L1073.3 185.1L1073.9 182.3L1074.6 185.5L1075.3 182.6L1075.9 181L1076.6 182.7L1077.3 181.4L1077.9 179.9L1078.4 182.2L1079 180.1L1079.6 178.9L1080.2 182.9L1080.8 182.6L1081.5 177.1L1082.3 177.6L1082.9 178L1083.4 173.3L1084 173.9L1084.6 179L1085.2 175.7L1085.8 182.6L1086.4 186.4L1087.1 183.8L1087.8 186.4L1088.4 189.7L1089 187.5L1089.5 190.1L1090.3 190.6L1091 183.9L1091.6 182.7L1092.2 183.9L1092.8 182.6L1093.5 180.8L1094.1 182.8L1094.8 181.4L1095.4 173.6L1096 177.8L1096.5 170.1L1097.1 164.3L1097.7 167L1098.3 162.6L1099 160.8L1099.6 163.4L1100.3 161.3L1100.9 154.7L1101.6 153.8L1102.2 151.4L1102.8 145.1L1103.4 141.8L1104 143.5L1104.6 140.1L1105.3 132.7L1106.1 132.5L1106.6 132.5L1107.2 127.6L1107.8 127.5L1108.4 127.7L1109.1 125L1109.7 127.8L1110.3 137.6L1110.9 141.1L1111.5 138.4L1112.1 141.3L1112.8 139.1L1113.6 130L1114.2 128L1114.7 130.6L1115.3 128.8L1115.9 128.6L1116.5 132.8L1117.1 132.5L1117.7 128.9L1118.4 132L1119.1 128.8L1119.7 128.9L1120.2 135.7L1120.8 135.1L1121.6 136.8L1122.3 142.6L1122.9 144L1123.5 136.1L1124.1 136.3L1124.8 138.7L1125.4 136.5L1126.1 138.8L1126.7 144L1127.3 142.2L1127.8 148.8L1128.5 148.2L1129.2 140.8L1129.8 140.1L1130.4 143.7L1131 141.4L1131.6 143.8L1132.3 143.4L1132.9 135.7L1133.6 136.3L1134.2 136L1134.8 129.1L1135.4 128.8L1135.9 131.2L1136.5 129.3L1137.1 131.3L1137.8 133.3L1138.4 130.4L1139.1 132.5L1139.7 132.4L1140.3 128.2L1140.9 128.8L1141.5 131.4L1142.2 129.1L1142.9 131.3L1143.5 134.9L1144.2 132.1L1144.9 135.1L1145.5 137L1146 135.1L1146.6 137.6L1147.3 140.8L1148 138.5L1148.6 141.3L1149.2 144.7L1149.8 141.5L1150.4 145.1L1151 145.9L1151.5 143L1152.1 143.8L1152.9 152.1L1153.6 152.6L1154.2 149.9L1154.8 152.5L1155.4 150.1L1156 141.7L1156.6 143.9L1157.1 137.6L1157.8 134.9L1158.5 136.9L1159.1 135.1L1159.7 133.3L1160.3 135.2L1160.9 133.8L1161.6 133.1L1162.2 136.1L1162.9 135.1L1163.5 136.3L1164.1 145.1L1164.8 154.5L1165.4 156.3L1166 150.7L1166.6 152.7L1167.2 146.3L1167.8 146L1168.5 149.6L1169.2 148.8L1169.7 145.7L1170.3 147.4L1170.9 145.1L1171.7 140L1172.4 140.1L1173 145.8L1173.6 142.1L1174.2 147.6L1174.8 151.1L1175.5 148.8L1176.2 151.3L1176.7 154.5L1177.3 153.4L1177.9 156.3L1178.5 156.7L1179.1 149.8L1179.7 150.1L1180.3 150.1L1181 144.1L1181.7 143.8L1182.3 144.8L1183 141.2L1183.7 141.3L1184.3 142.6L1184.8 136.8L1185.4 137.6L1186.1 142L1186.8 138.9L1187.4 143.8L1188 145.2L1188.6 143.8L1189.2 145.1L1189.9 145.1L1190.5 140.5L1191.2 140.1L1191.8 140L1192.4 133.2L1192.9 133.8L1193.6 134.6L1194.3 132L1194.9 132.5L1195.5 134.3L1196.1 132.6L1196.7 133.8" fill="none" stroke="#f8f8f8" stroke-width="1.3" stroke-linejoin="bevel" stroke-linecap="round"/>
<rect x="51.9" y="99.5" width="1.7" height="556.5" fill="#837adc"/>
<rect x="1203.95" y="99.5" width="1.6" height="556.5" fill="#f6f6f8"/>
<text x="40.5" y="190.1" text-anchor="end" font-size="16.4" fill="#eeeeee">4</text>
<text x="40.5" y="275.1" text-anchor="end" font-size="16.4" fill="#eeeeee">3</text>
<text x="40.5" y="361.1" text-anchor="end" font-size="16.4" fill="#eeeeee">2</text>
<text x="40.5" y="447.1" text-anchor="end" font-size="16.4" fill="#eeeeee">1</text>
<text x="40.5" y="532.1" text-anchor="end" font-size="16.4" fill="#eeeeee">0</text>
<text x="40.5" y="618.1" text-anchor="end" font-size="16.4" fill="#eeeeee">-1</text>
<text x="1217.3" y="120.4" font-size="16.4" fill="#eeeeee">$80K</text>
<text x="1217.3" y="151.9" font-size="16.4" fill="#eeeeee">$60K</text>
<text x="1217.3" y="195.3" font-size="16.4" fill="#eeeeee">$40K</text>
<text x="1217.3" y="270.7" font-size="16.4" fill="#eeeeee">$20K</text>
<text x="1217.3" y="346.2" font-size="16.4" fill="#eeeeee">$10K</text>
<text x="1217.3" y="370" font-size="16.4" fill="#eeeeee">$8K</text>
<text x="1217.3" y="401.2" font-size="16.4" fill="#eeeeee">$6K</text>
<text x="1217.3" y="444.9" font-size="16.4" fill="#eeeeee">$4K</text>
<text x="1217.3" y="520.3" font-size="16.4" fill="#eeeeee">$2K</text>
<text x="1217.3" y="595.7" font-size="16.4" fill="#eeeeee">$1K</text>
<text x="1217.3" y="619.7" font-size="16.4" fill="#eeeeee">$800</text>
<text x="1217.3" y="650.7" font-size="16.4" fill="#eeeeee">$600</text>
<line x1="375.8" y1="423" x2="413.1" y2="324" stroke="#52dc66" stroke-width="3.7"/><polygon points="418,310.9 420,328.8 404.7,323" fill="#52dc66"/>
<line x1="590.7" y1="306.3" x2="646.4" y2="171.5" stroke="#52dc66" stroke-width="3.7"/><polygon points="651.8,158.6 653.3,176.5 638.1,170.3" fill="#52dc66"/>
<line x1="922.2" y1="243.5" x2="1051.6" y2="159.5" stroke="#52dc66" stroke-width="3.7"/><polygon points="1063.3,151.9 1054.3,167.5 1045.4,153.7" fill="#52dc66"/>
<ellipse cx="376" cy="602.5" rx="41" ry="39.5" fill="rgb(255,204,0)" fill-opacity="0.5"/>
<ellipse cx="585.1" cy="602.5" rx="40.6" ry="39.5" fill="rgb(255,204,0)" fill-opacity="0.5"/>
<ellipse cx="875.2" cy="604" rx="40.6" ry="39.3" fill="rgb(255,204,0)" fill-opacity="0.5"/>
<ellipse cx="1155.4" cy="605.3" rx="62.6" ry="39.4" fill="rgb(255,204,0)" fill-opacity="0.5"/>
<rect x="1204" y="117" width="62" height="29" fill="#f7f7fc"/>
<text x="1209.7" y="137.4" font-size="16.8" fill="#0e0e12" textLength="48.6" lengthAdjust="spacingAndGlyphs">$67.9K</text>
<text x="639.3" y="46.2" text-anchor="middle" font-size="26" font-weight="bold" fill="#ffffff" textLength="428.6" lengthAdjust="spacingAndGlyphs">Bitcoin: Miners' Position Index (MPI)</text>
<line x1="434" x2="450.5" y1="73.5" y2="73.5" stroke="#e8e8e8" stroke-width="1.2"/>
<text x="455.3" y="77.7" font-size="15.8" fill="#e8e8e8" textLength="70" lengthAdjust="spacingAndGlyphs">Price USD</text>
<line x1="543" x2="558.5" y1="73.5" y2="73.5" stroke="#8c8c94" stroke-width="1.2"/>
<text x="563.5" y="77.7" font-size="15.8" fill="#8c8c94" textLength="193.3" lengthAdjust="spacingAndGlyphs">Miners' Position Index (MPI)</text>
<line x1="563.5" x2="756.8" y1="73.3" y2="73.3" stroke="#8c8c94" stroke-width="1" stroke-opacity="0.85"/>
<line x1="770" x2="787" y1="73.5" y2="73.5" stroke="#807ae0" stroke-width="1" stroke-dasharray="1.5 1"/>
<text x="791.2" y="77.7" font-size="15.8" fill="#e8e8e8" textLength="52.6" lengthAdjust="spacingAndGlyphs">SMA(7)</text>
<text x="1088.3" y="702" font-size="11.6" fill="#8e8e94" textLength="160" lengthAdjust="spacingAndGlyphs">© CryptoQuant. All rights reserved</text>
</svg></body></html>
